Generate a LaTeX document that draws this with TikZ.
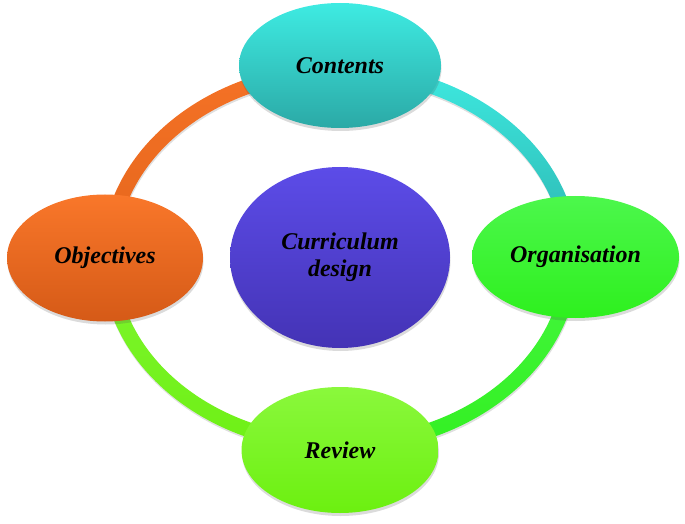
\documentclass[tikz,border=0pt]{standalone}
\usepackage{fontspec}
\setmainfont{Liberation Serif}
\usetikzlibrary{shapes.geometric,shadows}
\definecolor{contTop}{HTML}{3EEBE2}
\definecolor{contBot}{HTML}{2BA9A6}
\definecolor{objTop}{HTML}{F9772A}
\definecolor{objBot}{HTML}{D55A17}
\definecolor{orgTop}{HTML}{4CF74C}
\definecolor{orgBot}{HTML}{2EF01E}
\definecolor{revTop}{HTML}{8AF83C}
\definecolor{revBot}{HTML}{6CF010}
\definecolor{curTop}{HTML}{5C4CE8}
\definecolor{curBot}{HTML}{4433B5}
\definecolor{arcOrTop}{HTML}{F57226}
\definecolor{arcOrBot}{HTML}{E4661C}
\definecolor{arcCyTop}{HTML}{3EEAE1}
\definecolor{arcCyBot}{HTML}{2BB3AE}
\definecolor{arcGrTop}{HTML}{44F63F}
\definecolor{arcGrBot}{HTML}{33F022}
\definecolor{arcLgTop}{HTML}{7EF52E}
\definecolor{arcLgBot}{HTML}{6EF015}
\tikzset{
  bubble/.style={ellipse, inner sep=0pt, text=black,
    font=\fontsize{24}{27}\selectfont\bfseries\itshape,
    drop shadow={shadow xshift=0.5pt, shadow yshift=-3pt, opacity=0.2, fill=black!70}},
  ringshadow/.style={drop shadow={shadow xshift=0.5pt, shadow yshift=-2pt, opacity=0.18, fill=black!70}}
}
\newcommand\ringsector[4]{%
  \shade[shift={(ring)}, ringshadow, top color=#3, bottom color=#4]
    (#1:238.5pt and 194.5pt) arc[start angle=#1, end angle=#2, x radius=238.5pt, y radius=194.5pt]
    -- (#2:223.5pt and 179.5pt) arc[start angle=#2, end angle=#1, x radius=223.5pt, y radius=179.5pt]
    -- cycle;}
\begin{document}
\begin{tikzpicture}[x=1pt,y=1pt]
\useasboundingbox (0,0) rectangle (685,523);
\coordinate (ring) at (340,265);
% ring segments (from node to node around the cycle)
\ringsector{0}{90}{arcCyTop}{arcCyBot}
\ringsector{90}{180}{arcOrTop}{arcOrBot}
\ringsector{180}{270}{arcLgTop}{arcLgBot}
\ringsector{270}{360}{arcGrTop}{arcGrBot}
% nodes
\node[bubble, minimum width=202pt, minimum height=125pt, top color=contTop, bottom color=contBot] (contents) at (340,457.5) {Contents};
\node[bubble, minimum width=196pt, minimum height=127pt, top color=objTop, bottom color=objBot] (objectives) at (105,265) {Objectives};
\node[bubble, minimum width=207pt, minimum height=122pt, top color=orgTop, bottom color=orgBot] (organisation) at (575.5,266) {Organisation};
\node[bubble, minimum width=197pt, minimum height=126pt, top color=revTop, bottom color=revBot] (review) at (340,73) {Review};
\node[bubble, minimum width=220pt, minimum height=181pt, align=center, top color=curTop, bottom color=curBot] (design) at (340,265.5) {Curriculum\\design};
\end{tikzpicture}
\end{document}
